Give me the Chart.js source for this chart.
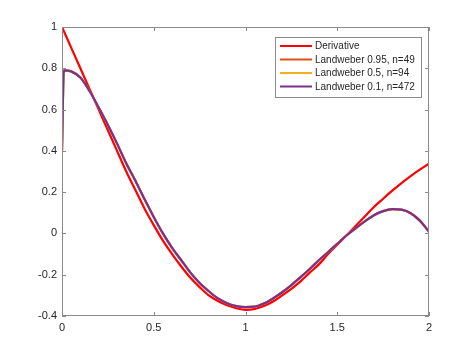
<!DOCTYPE html>
<html>
<head>
<meta charset="utf-8">
<script src="https://cdn.jsdelivr.net/npm/chart.js@4.4.1/dist/chart.umd.min.js"></script>
<style>
  html, body { margin: 0; padding: 0; background: #ffffff; }
  #wrap { width: 474px; height: 355px; }
</style>
</head>
<body>
<div id="wrap"><canvas id="c" width="474" height="355"></canvas></div>
<script>
// ---- Data ----
const xDerivative = [0,0.05,0.1,0.15,0.2,0.25,0.3,0.35,0.4,0.45,0.5,0.55,0.6,0.65,0.7,0.75,0.8,0.85,0.9,0.95,1.0,
  1.05,1.1,1.15,1.2,1.25,1.3,1.35,1.4,1.45,1.5,1.55,1.6,1.65,1.7,1.75,1.8,1.85,1.9,1.95,2.0];
const derivative = [1.00,0.90,0.80,0.70,0.60,0.50,0.40,0.30,0.21,0.12,0.04,-0.035,-0.10,-0.16,-0.215,-0.26,-0.30,-0.327,-0.348,-0.362,-0.37,
  -0.366,-0.352,-0.33,-0.30,-0.268,-0.232,-0.19,-0.15,-0.10,-0.055,-0.01,0.036,0.082,0.128,0.168,0.207,0.244,0.278,0.309,0.338];

const xLandweber = [0,0.01,0.05,0.1,0.15,0.2,0.25,0.3,0.35,0.4,0.45,0.5,0.55,0.6,0.65,0.7,0.75,0.8,0.85,0.9,0.95,1.0,
  1.05,1.1,1.15,1.2,1.25,1.3,1.35,1.4,1.45,1.5,1.55,1.6,1.65,1.7,1.75,1.8,1.85,1.9,1.95,2.0];
const landweber095 = [0.40,0.79,0.785,0.755,0.69,0.61,0.525,0.435,0.34,0.255,0.165,0.08,0.0,-0.07,-0.13,-0.19,-0.24,-0.28,-0.315,-0.338,-0.352,-0.357,
  -0.355,-0.34,-0.315,-0.285,-0.25,-0.212,-0.172,-0.13,-0.09,-0.05,-0.01,0.025,0.058,0.088,0.108,0.118,0.115,0.098,0.062,0.008];
const landweber05 = [0.40,0.79,0.785,0.755,0.69,0.61,0.525,0.435,0.34,0.255,0.165,0.08,0.0,-0.07,-0.13,-0.19,-0.24,-0.28,-0.315,-0.338,-0.352,-0.357,
  -0.355,-0.34,-0.315,-0.285,-0.25,-0.212,-0.172,-0.13,-0.09,-0.05,-0.01,0.025,0.058,0.088,0.108,0.118,0.115,0.098,0.062,0.008];
const landweber01 = [0.40,0.79,0.785,0.755,0.69,0.61,0.525,0.435,0.34,0.255,0.165,0.08,0.0,-0.07,-0.13,-0.19,-0.24,-0.28,-0.315,-0.338,-0.352,-0.357,
  -0.355,-0.34,-0.315,-0.285,-0.25,-0.212,-0.172,-0.13,-0.09,-0.05,-0.01,0.025,0.058,0.088,0.108,0.118,0.115,0.098,0.062,0.008];

const seriesLabels = ['Derivative','Landweber 0.95, n=49','Landweber 0.5, n=94','Landweber 0.1, n=472'];

const xTickValues = [0,0.5,1,1.5,2];
const xTickLabels = ['0','0.5','1','1.5','2'];
const yTickValues = [-0.4,-0.2,0,0.2,0.4,0.6,0.8,1];
const yTickLabels = ['-0.4','-0.2','0','0.2','0.4','0.6','0.8','1'];

// ---- helpers ----
function pts(xs, ys) { return xs.map((x, i) => ({ x: x, y: ys[i] })); }

const FONT = '"Liberation Sans", Arial, Helvetica, sans-serif';
const AXIS_COLOR = '#8a8a8a';
const TEXT_COLOR = '#262626';

// Box + inward ticks (MATLAB style)
const boxPlugin = {
  id: 'boxPlugin',
  afterDatasetsDraw(chart) {
    const { ctx, chartArea: a, scales } = chart;
    ctx.save();
    ctx.strokeStyle = AXIS_COLOR;
    ctx.lineWidth = 1;
    ctx.strokeRect(a.left + 0.5, a.top + 0.5, a.right - a.left - 1, a.bottom - a.top - 1);
    const tl = 4;
    ctx.beginPath();
    xTickValues.forEach(v => {
      const px = Math.round(scales.x.getPixelForValue(v)) + 0.5;
      ctx.moveTo(px, a.bottom); ctx.lineTo(px, a.bottom - tl);
      ctx.moveTo(px, a.top); ctx.lineTo(px, a.top + tl);
    });
    yTickValues.forEach(v => {
      const py = Math.round(scales.y.getPixelForValue(v)) + 0.5;
      ctx.moveTo(a.left, py); ctx.lineTo(a.left + tl, py);
      ctx.moveTo(a.right, py); ctx.lineTo(a.right - tl, py);
    });
    ctx.stroke();
    ctx.restore();
  }
};

// Boxed legend inside the axes, top right (legend order = dataset index order)
const legendPlugin = {
  id: 'legendPlugin',
  afterDraw(chart) {
    const { ctx, chartArea: a } = chart;
    const w = 147, h = 61;
    const left = a.right - 7 - w, top = a.top + 10;
    ctx.save();
    ctx.fillStyle = '#ffffff';
    ctx.fillRect(left, top, w, h);
    ctx.strokeStyle = AXIS_COLOR;
    ctx.lineWidth = 1;
    ctx.strokeRect(left + 0.5, top + 0.5, w - 1, h - 1);
    ctx.font = '10px ' + FONT;
    ctx.textBaseline = 'middle';
    ctx.textAlign = 'left';
    chart.data.datasets.forEach((ds, i) => {
      const y = top + 9 + i * 13.5;
      ctx.strokeStyle = ds.borderColor;
      ctx.lineWidth = 2;
      ctx.beginPath();
      ctx.moveTo(left + 5, y);
      ctx.lineTo(left + 37, y);
      ctx.stroke();
      ctx.fillStyle = TEXT_COLOR;
      ctx.fillText(ds.label, left + 40, y + 0.5);
    });
    ctx.restore();
  }
};

const common = {
  fill: false,
  pointRadius: 0,
  borderWidth: 2.2,
  cubicInterpolationMode: 'monotone',
  tension: 0.4
};

new Chart(document.getElementById('c'), {
  type: 'line',
  data: {
    datasets: [
      Object.assign({ label: seriesLabels[0], data: pts(xDerivative, derivative), borderColor: '#ff0000', order: 3 }, common),
      Object.assign({ label: seriesLabels[1], data: pts(xLandweber, landweber095), borderColor: '#d95319', order: 2 }, common),
      Object.assign({ label: seriesLabels[2], data: pts(xLandweber, landweber05), borderColor: '#edb120', order: 1 }, common),
      Object.assign({ label: seriesLabels[3], data: pts(xLandweber, landweber01), borderColor: '#7e2f8e', order: 0 }, common)
    ]
  },
  options: {
    responsive: false,
    animation: false,
    devicePixelRatio: 1,
    layout: { padding: { left: 0, right: 45, top: 27, bottom: 0 } },
    plugins: { legend: { display: false }, tooltip: { enabled: false } },
    scales: {
      x: {
        type: 'linear',
        min: 0, max: 2,
        afterBuildTicks(scale) { scale.ticks = xTickValues.map(v => ({ value: v })); },
        afterFit(scale) { scale.height = 39; },
        grid: { display: false, drawTicks: false },
        border: { display: false },
        ticks: {
          color: TEXT_COLOR,
          font: { family: FONT, size: 11 },
          padding: 5,
          maxRotation: 0,
          autoSkip: false,
          callback: (v, i) => xTickLabels[i]
        }
      },
      y: {
        type: 'linear',
        min: -0.4, max: 1,
        afterBuildTicks(scale) { scale.ticks = yTickValues.map(v => ({ value: v })); },
        afterFit(scale) { scale.width = 62; },
        grid: { display: false, drawTicks: false },
        border: { display: false },
        ticks: {
          color: TEXT_COLOR,
          font: { family: FONT, size: 11 },
          padding: 5,
          autoSkip: false,
          callback: (v, i) => yTickLabels[i]
        }
      }
    }
  },
  plugins: [boxPlugin, legendPlugin]
});
</script>
</body>
</html>
